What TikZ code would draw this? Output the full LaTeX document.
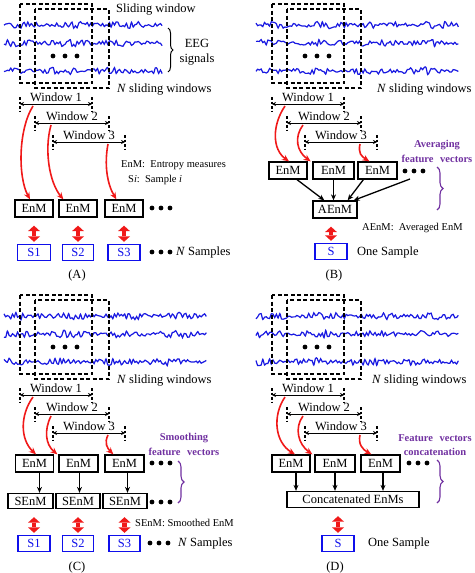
\documentclass[tikz,border=0pt]{standalone}
\usepackage{fontspec}
\setmainfont{Liberation Serif}
\usetikzlibrary{arrows.meta,decorations.pathreplacing,calc}
\definecolor{sigblue}{RGB}{25,25,225}
\definecolor{sblue}{RGB}{15,15,235}
\definecolor{vpurple}{RGB}{112,48,160}
\definecolor{rred}{RGB}{240,25,25}
\tikzset{
 box/.style={draw, line width=1.3pt, fill=white, minimum height=17pt, inner sep=0pt, font=\fontsize{12.5}{14}\selectfont},
 sbox/.style={draw=sblue, text=sblue, line width=1.3pt, fill=white, minimum width=32pt, minimum height=16pt, inner sep=0pt, font=\fontsize{12.5}{14}\selectfont},
 dashbox/.style={draw, line width=1.9pt, dash pattern=on 4pt off 2.5pt},
 eeg/.style={draw=sigblue, line width=1.2pt},
 bdot/.style={circle, fill, inner sep=0pt, minimum size=4.8pt},
 winarr/.style={line width=0.9pt, {Stealth[length=4pt,width=4pt]}-{Stealth[length=4pt,width=4pt]}},
 wtick/.style={line width=1.4pt, dash pattern=on 2.5pt off 2pt},
 redarr/.style={draw=rred, line width=1.6pt, -{Stealth[length=7pt,width=6pt]}},
 blkarr/.style={line width=1.3pt, -{Stealth[length=6pt,width=5pt]}},
 dblarr/.style={draw=rred, line width=4.4pt, {Triangle[width=12pt,length=5.5pt,line width=0pt]}-{Triangle[width=12pt,length=5.5pt,line width=0pt]}, shorten <=8pt, shorten >=2pt},
 lbl/.style={font=\fontsize{12.5}{14}\selectfont, inner sep=0pt},
 legend/.style={font=\fontsize{10.5}{12}\selectfont, inner sep=0pt, anchor=west},
 plbl/.style={text=vpurple, font=\bfseries\fontsize{10.5}{12}\selectfont, inner sep=0pt},
 pbrace/.style={draw=vpurple, line width=1.1pt, decorate, decoration={brace, amplitude=6pt}},
}
% #1 prefix, #2 dx, #3 dy, #4 signal end, #5 x of "N sliding windows"
\newcommand\toppart[5]{%
\begin{scope}[shift={(#2,#3)}]
  \foreach \yy in {25,43,71}{
    \draw[eeg] plot[smooth, tension=0.5, samples at={4,5.7,...,#4}, variable=\t] (\t, {\yy + (1.4+2.4*abs(sin(\t*3.3+\yy)))*rand});
  }
  \draw[dashbox] (20,4) rectangle (92,83);
  \draw[dashbox] (35,9) rectangle (109,88);
  \node[bdot] (#1dt1) at (53,56) {};
  \node[bdot] (#1dt2) at (65,56) {};
  \node[bdot] (#1dt3) at (77,56) {};
  \node[lbl, anchor=west] (#1nsw) at (#5,90) {\textit{N} sliding windows};
  \coordinate (#1w1a) at (20,104); \coordinate (#1w1b) at (92,104);
  \coordinate (#1w2a) at (35,123); \coordinate (#1w2b) at (109,123);
  \coordinate (#1w3a) at (53,142); \coordinate (#1w3b) at (125,142);
  \foreach \p in {w1a,w1b,w2a,w2b,w3a,w3b}{
    \draw[wtick] ([yshift=7pt]#1\p) -- ([yshift=-7pt]#1\p);
  }
  \draw[winarr] (#1w1a) -- (#1w1b);
  \draw[winarr] (#1w2a) -- (#1w2b);
  \draw[winarr] (#1w3a) -- (#1w3b);
  \node[lbl] (#1l1) at (56,97) {Window 1};
  \node[lbl] (#1l2) at (72,116) {Window 2};
  \node[lbl] (#1l3) at (89,135) {Window 3};
  \coordinate (#1st1) at (33,106);
  \coordinate (#1st2) at (51,125);
  \coordinate (#1st3) at (108,144);
\end{scope}}
\begin{document}
\begin{tikzpicture}[x=1pt, y=-1pt]
\useasboundingbox (0,0) rectangle (474,573);
\pgfmathsetseed{11}
% ================= Panel A
\toppart{a}{0}{0}{163}{117}
\node[lbl, anchor=west] (aslw) at (116,10) {Sliding window};
\draw[decorate, decoration={brace, amplitude=5pt}, line width=1pt] (168,28) -- (168,72);
\node[lbl] (aeeg) at (197,43) {EEG};
\node[lbl] (asig) at (197,60) {signals};
\node[box, minimum width=38pt] (aE1) at (34,208.5) {EnM};
\node[box, minimum width=38pt] (aE2) at (78,208.5) {EnM};
\node[box, minimum width=38pt] (aE3) at (124,208.5) {EnM};
\node[bdot] (aD1) at (152,208) {};
\node[bdot] (aD2) at (161,208) {};
\node[bdot] (aD3) at (170,208) {};
\node[legend] (aleg1) at (121,165) {EnM:\ \ Entropy measures};
\node[legend] (aleg2) at (128,180) {S\textit{i}:\ \ Sample \textit{i}};
\node[sbox, minimum width=33pt] (aSb1) at (34,252.5) {S1};
\node[sbox, minimum width=31pt] (aSb2) at (78,252.5) {S2};
\node[sbox, minimum width=32pt] (aSb3) at (124,252.5) {S3};
\node[bdot] (aSD1) at (152,252) {};
\node[bdot] (aSD2) at (161,252) {};
\node[bdot] (aSD3) at (170,252) {};
\node[lbl, anchor=west] (aNS) at (176,252) {\textit{N} Samples};
\node[lbl] (acap) at (77,275) {(A)};
\draw[redarr] (ast1) .. controls +(-15,24) and +(-12,-22) .. ([xshift=-4pt]aE1.north);
\draw[redarr] (ast2) .. controls +(-7,25) and +(-14,-17) .. ([xshift=5pt]aE2.north west);
\draw[redarr] (ast3) .. controls +(-4,21) and +(-9,-15) .. ([xshift=12pt]aE3.north west);
\draw[dblarr] (aE1) -- (aSb1);
\draw[dblarr] (aE2) -- (aSb2);
\draw[dblarr] (aE3) -- (aSb3);
% ================= Panel B
\toppart{b}{252}{0}{207}{125}
\node[box, minimum width=38pt] (bE1) at (288,170.5) {EnM};
\node[box, minimum width=41pt] (bE2) at (333.5,170.5) {EnM};
\node[box, minimum width=39pt] (bE3) at (377.5,170.5) {EnM};
\node[bdot] (bD1) at (405,171) {};
\node[bdot] (bD2) at (414,171) {};
\node[bdot] (bD3) at (423,171) {};
\node[box, minimum width=44pt] (bA) at (335,209.5) {AEnM};
\draw[blkarr] ([xshift=9pt]bE1.south) -- ([xshift=12pt]bA.north west);
\draw[blkarr] (bE2.south) -- (bE2.south |- bA.north);
\draw[blkarr] ([xshift=6pt]bE3.south west) -- ([xshift=-10pt]bA.north east);
\draw[blkarr] ([xshift=-4pt,yshift=-8pt]bD2.center) -- ([xshift=-4pt]bA.north east);
\draw[pbrace] (437,167) -- (437,210);
\node[plbl] (bav1) at (437,145) {Averaging};
\node[plbl] (bav2) at (437,159) {feature\hspace{4pt} vectors};
\node[legend] (bleg) at (362,228) {AEnM:\ \ Averaged EnM};
\node[sbox] (bSb) at (331,251.5) {S};
\draw[dblarr] (bSb.north |- bA.south) -- (bSb.north);
\node[lbl, anchor=west] (bone) at (357,252) {One Sample};
\node[lbl] (bcap) at (334,275) {(B)};
\draw[redarr] (bst1) .. controls +(-13,19) and +(-17,-12) .. ([xshift=1pt]bE1.north);
\draw[redarr] (bst2) .. controls +(-9,12) and +(-14,-10) .. ([xshift=3pt]bE1.north east);
\draw[redarr] (bst3) .. controls +(-2,9) and +(-8,-5) .. ([xshift=12pt]bE3.north west);
% ================= Panel C
\toppart{c}{0}{291}{207}{117}
\node[box, minimum width=38pt] (cE1) at (34.5,463.5) {EnM};
\node[box, minimum width=39pt] (cE2) at (78.5,463.5) {EnM};
\node[box, minimum width=39pt] (cE3) at (124.5,463.5) {EnM};
\node[box, minimum width=45pt, minimum height=15pt] (cSE1) at (30.5,501) {SEnM};
\node[box, minimum width=44pt, minimum height=15pt] (cSE2) at (78,501) {SEnM};
\node[box, minimum width=44pt, minimum height=15pt] (cSE3) at (125,501) {SEnM};
\draw[blkarr] ([xshift=5pt]cE1.south) -- ([xshift=5pt]cE1.south |- cSE1.north);
\draw[blkarr] ([xshift=1pt]cE2.south) -- ([xshift=1pt]cE2.south |- cSE2.north);
\draw[blkarr] ([xshift=3pt]cE3.south) -- ([xshift=3pt]cE3.south |- cSE3.north);
\node[bdot] (cD1) at (152,463) {};
\node[bdot] (cD2) at (161,463) {};
\node[bdot] (cD3) at (170,463) {};
\node[bdot] (cD4) at (152,502) {};
\node[bdot] (cD5) at (161,502) {};
\node[bdot] (cD6) at (170,502) {};
\draw[pbrace] (178,461) -- (178,503);
\node[plbl] (csm1) at (184,438) {Smoothing};
\node[plbl] (csm2) at (184,452) {feature\hspace{4pt} vectors};
\node[legend] (cleg) at (135,523) {SEnM: Smoothed EnM};
\node[sbox] (cSb1) at (34,543.5) {S1};
\node[sbox, minimum width=31pt] (cSb2) at (78,543.5) {S2};
\node[sbox, minimum width=31pt] (cSb3) at (124.5,543.5) {S3};
\draw[dblarr] (cSb1.north |- cSE1.south) -- (cSb1.north);
\draw[dblarr] (cSb2.north |- cSE2.south) -- (cSb2.north);
\draw[dblarr] (cSb3.north |- cSE3.south) -- (cSb3.north);
\node[bdot] (cSD1) at (150,543) {};
\node[bdot] (cSD2) at (159,543) {};
\node[bdot] (cSD3) at (168,543) {};
\node[lbl, anchor=west] (cNS) at (178,543) {\textit{N} Samples};
\node[lbl] (ccap) at (77,567) {(C)};
\draw[redarr] (cst1) .. controls +(-13,18) and +(-16,-15) .. ([xshift=1.5pt]cE1.north);
\draw[redarr] (cst2) .. controls +(-7,14) and +(-12,-10) .. ([xshift=-1pt]cE2.north west);
\draw[redarr] (cst3) .. controls +(-4,8) and +(-6,-6) .. ([xshift=9pt]cE3.north west);
% ================= Panel D
\toppart{d}{252}{291}{207}{120}
\node[box, minimum width=38pt] (dE1) at (291,463.5) {EnM};
\node[box, minimum width=40pt] (dE2) at (335,463.5) {EnM};
\node[box, minimum width=39pt] (dE3) at (380.5,463.5) {EnM};
\node[bdot] (dD1) at (409,463) {};
\node[bdot] (dD2) at (418,463) {};
\node[bdot] (dD3) at (427,463) {};
\node[box, minimum width=132pt, minimum height=16pt] (dC) at (353,499.5) {Concatenated EnMs};
\draw[blkarr] ([xshift=5pt]dE1.south) -- ([xshift=5pt]dE1.south |- dC.north);
\draw[blkarr] (dE2.south) -- (dE2.south |- dC.north);
\draw[blkarr] ([xshift=2.5pt]dE3.south) -- ([xshift=2.5pt]dE3.south |- dC.north);
\draw[pbrace] (437,460) -- (437,503);
\node[plbl] (dfv1) at (435,438) {Feature\hspace{4pt} vectors};
\node[plbl] (dfv2) at (435,452) {concatenation};
\node[sbox] (dSb) at (338,543.5) {S};
\draw[dblarr] (dSb.north |- dC.south) -- (dSb.north);
\node[lbl, anchor=west] (done) at (368,543) {One Sample};
\node[lbl] (dcap) at (335,567) {(D)};
\draw[redarr] (dst1) .. controls +(-13,19) and +(-20,-12) .. ([xshift=4pt]dE1.north);
\draw[redarr] (dst2) .. controls +(-9,12) and +(-14,-10) .. ([xshift=-2pt]dE2.north west);
\draw[redarr] (dst3) .. controls +(-2,9) and +(-9,-5) .. ([xshift=11pt]dE3.north west);
\end{tikzpicture}
\end{document}
